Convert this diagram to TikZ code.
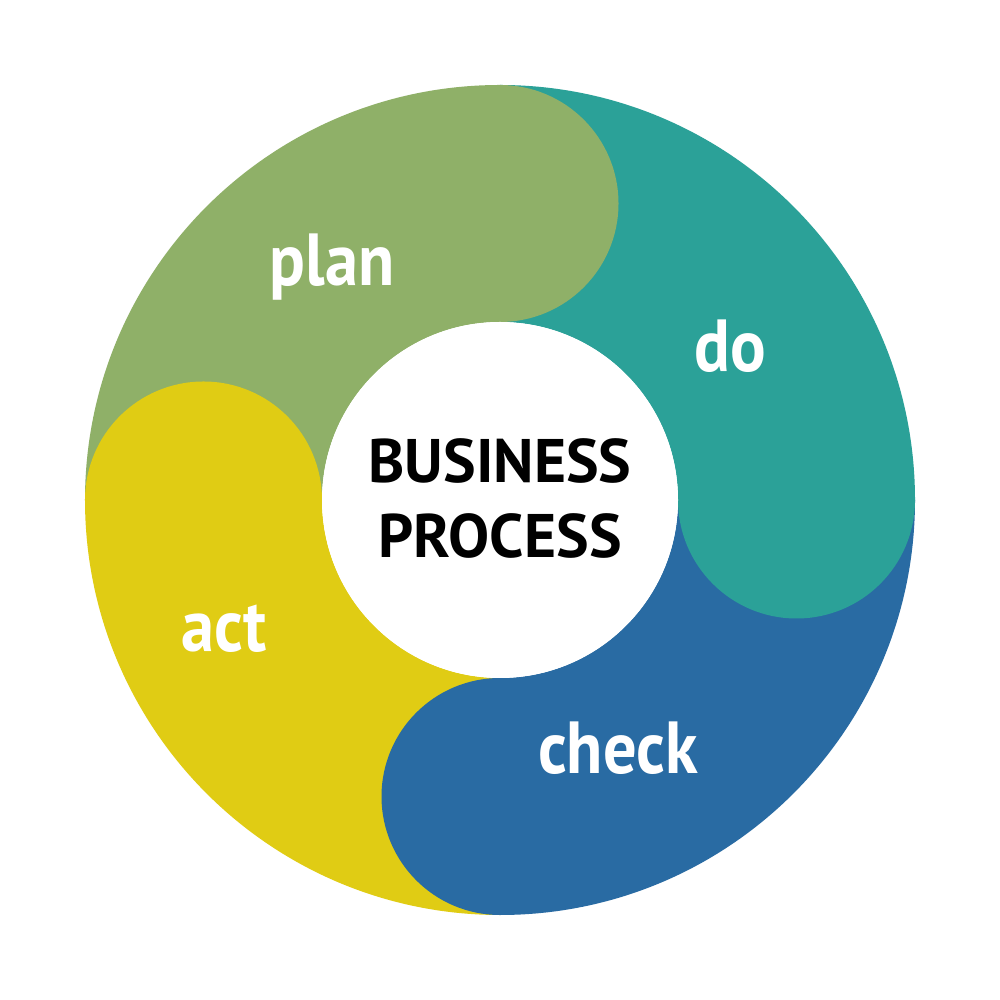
\documentclass[tikz,border=0pt]{standalone}
\usepackage{fontspec}
\setmainfont{PT Sans}
\newfontfamily\phasefont[FakeStretch=0.9]{PT Sans}
\usepackage{tikz}

\definecolor{planGreen}{RGB}{143,176,104}
\definecolor{doTeal}{RGB}{43,161,152}
\definecolor{checkBlue}{RGB}{41,107,163}
\definecolor{actYellow}{RGB}{224,204,20}

\tikzset{
  phase/.style={text=white,font=\phasefont\fontsize{21}{24}\selectfont\bfseries,anchor=base},
  title/.style={text=black,font=\fontsize{17.5}{20}\selectfont\bfseries,anchor=base}
}

\begin{document}
\begin{tikzpicture}
\useasboundingbox (-5,-5) rectangle (5,5);
\fill[white] (-5,-5) rectangle (5,5);

% segments: ring quarter with its round end
\fill[color=actYellow] (-90:4.15) arc[start angle=-90,end angle=-180,radius=4.15]
      arc[start angle=180,end angle=0,radius=1.185]
      arc[start angle=180,end angle=270,radius=1.78] -- cycle;
\fill[color=checkBlue] (0:4.15) arc[start angle=0,end angle=-90,radius=4.15]
      arc[start angle=-90,end angle=-270,radius=1.185]
      arc[start angle=-90,end angle=0,radius=1.78] -- cycle;
\fill[color=doTeal] (90:4.15) arc[start angle=90,end angle=0,radius=4.15]
      arc[start angle=0,end angle=-180,radius=1.185]
      arc[start angle=0,end angle=90,radius=1.78] -- cycle;
\fill[color=planGreen] (180:4.15) arc[start angle=180,end angle=90,radius=4.15]
      arc[start angle=90,end angle=-90,radius=1.185]
      arc[start angle=90,end angle=180,radius=1.78] -- cycle;

% round end of act again, over plan
\fill[color=actYellow] (-1.8,-0.03) -- (-4.13,-0.03) -- (-4.15,0)
      arc[start angle=180,end angle=0,radius=1.185] -- cycle;

% hole
\fill[white] (0,0) circle (1.78);

\node[phase] (plan) at (-1.68,2.14) {plan};
\node[phase] (do) at (2.30,1.28) {do};
\node[phase] (act) at (-2.76,-1.52) {act};
\node[phase] (check) at (1.18,-2.74) {check};
\node[title] (business) at (0,0.17) {BUSINESS};
\node[title] (process) at (0,-0.58) {PROCESS};
\end{tikzpicture}
\end{document}
